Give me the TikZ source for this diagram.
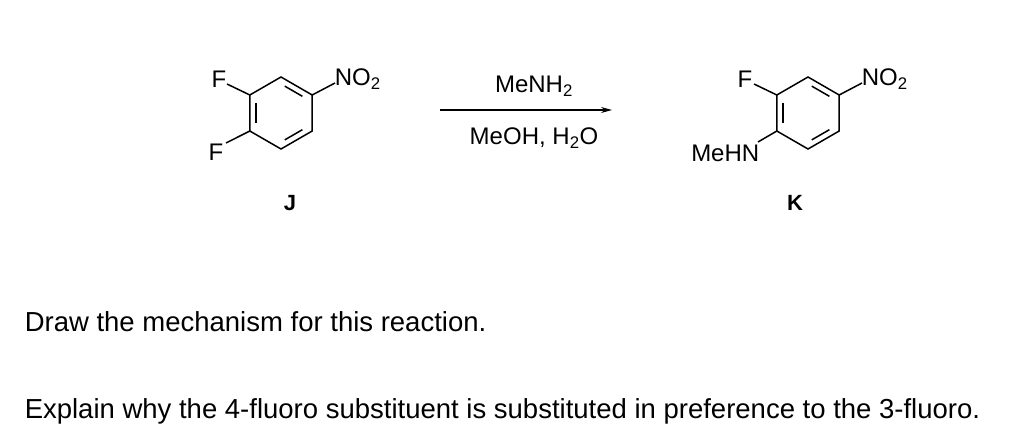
\documentclass[tikz,border=0pt]{standalone}
\usepackage{fontspec}
\setmainfont{Liberation Sans}
\usetikzlibrary{arrows.meta,calc}
\begin{document}
\begin{tikzpicture}[x=1pt,y=-1pt,line width=1.5pt,
  lab/.style={inner sep=0pt,font=\fontsize{24}{24}\selectfont},
  big/.style={inner sep=0pt,anchor=west,font=\fontsize{27.5}{27.5}\selectfont}]
\useasboundingbox (0,0) rectangle (1024,444);
\foreach \cx/\nm in {281/J,808/K}{
  \foreach \i/\a in {1/90,2/30,3/-30,4/-90,5/-150,6/150}
    \coordinate (\nm\i) at ({\cx+36*cos(\a)},{113-36*sin(\a)});
}
\foreach \nm in {J,K}{
  \draw (\nm1)--(\nm2)--(\nm3)--(\nm4)--(\nm5)--(\nm6)--cycle;
}
% inner double bond lines
\foreach \nm/\cx in {J/281,K/808}{
  \coordinate (c\nm) at (\cx,113);
  \draw ($(c\nm)!0.78!(\nm6)!0.12!(\nm5)$) -- ($(c\nm)!0.78!(\nm5)!0.12!(\nm6)$);
  \draw ($(c\nm)!0.78!(\nm1)!0.12!(\nm2)$) -- ($(c\nm)!0.78!(\nm2)!0.12!(\nm1)$);
  \draw ($(c\nm)!0.78!(\nm3)!0.12!(\nm4)$) -- ($(c\nm)!0.78!(\nm4)!0.12!(\nm3)$);
}
% J substituents
\node[lab] (jf1) at (219,79) {F};
\node[lab] (jf2) at (216,152) {F};
\node[lab,anchor=west] (jno) at (334,79) {NO\textsubscript{2}};
\draw (J6) -- (227,84);
\draw (J5) -- (226,143);
\draw (J2) -- (335,83);
% K substituents
\node[lab] (kf) at (745,79) {F};
\node[lab,anchor=east] (kn) at (760,153) {MeHN};
\node[lab,anchor=west] (kno) at (861,79) {NO\textsubscript{2}};
\draw (K6) -- (754,84);
\draw (K5) -- (758,142);
\draw (K2) -- (862,83);
% arrow
\coordinate (a1) at (440,110); \coordinate (a2) at (612,110);
\draw[line width=1.2pt,-{Stealth[length=11pt,width=6pt]}] (a1) -- (a2);
\node[lab] (r1) at (534,86) {MeNH\textsubscript{2}};
\node[lab] (r2) at (534,138) {MeOH, H\textsubscript{2}O};
\node[lab,font=\fontsize{22}{22}\selectfont\bfseries] (lj) at (290,203) {J};
\node[lab,font=\fontsize{22}{22}\selectfont\bfseries] (lk) at (795,203) {K};
\node[big] (q1) at (24,322) {Draw the mechanism for this reaction.};
\node[big] (q2) at (24,411) {Explain why the 4-fluoro substituent is substituted in preference to the 3-fluoro.};
\end{tikzpicture}
\end{document}
